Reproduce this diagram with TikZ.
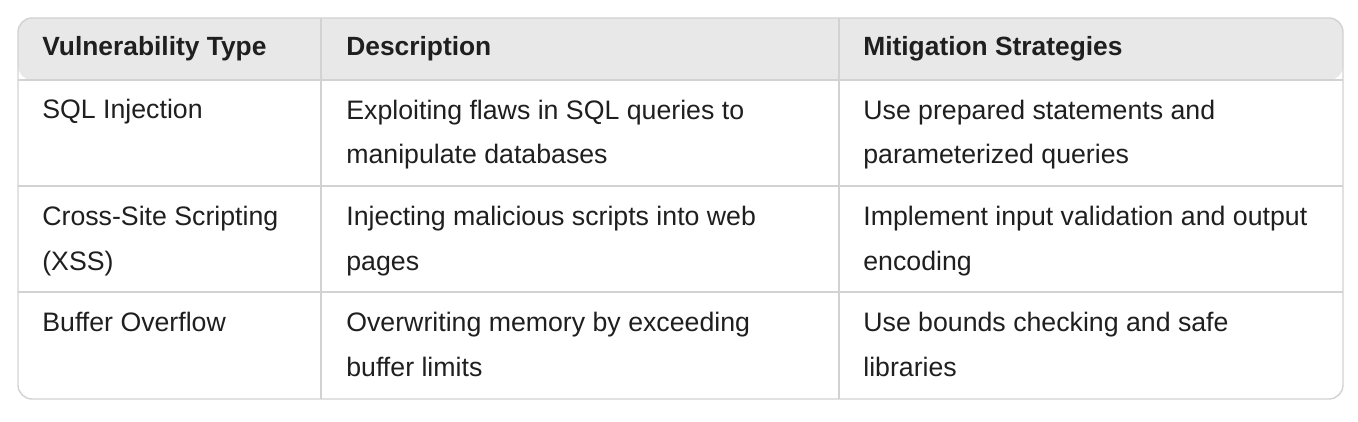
\documentclass[tikz,border=0pt]{standalone}
\usepackage{fontspec}
\setmainfont{Liberation Sans}
\usetikzlibrary{positioning, backgrounds}
\definecolor{gridGray}{HTML}{D2D2D2}
\definecolor{headBg}{HTML}{E8E8E8}
\definecolor{textDark}{HTML}{1F1F1F}
\tikzset{
    cell/.style={anchor=base west, inner sep=0pt, align=left, font=\fontsize{15.2}{25.5}\selectfont, text=textDark},
    head/.style={cell, font=\fontsize{15}{25.5}\selectfont\bfseries}
}
\begin{document}
\begin{tikzpicture}[x=0.02cm, y=-0.02cm]
        \useasboundingbox (0,0) rectangle (1358,422);
        % Header band and frame
        \fill[headBg, rounded corners=8pt] (18,18) rectangle (1343,80);
        \fill[white] (18.5,80) rectangle (1342.5,398.5);
        \draw[gridGray, line width=0.8pt, rounded corners=8pt] (18,18) rectangle (1343,399);
        
        % Grid lines
        \draw[gridGray, line width=0.8pt] (18,80) -- (1343,80) (18,186) -- (1343,186) (18,292) -- (1343,292);
        \draw[gridGray, line width=0.8pt] (321,18) -- (321,399) (839,18) -- (839,399);
        
        % Header
        \node[head] (hType) at (42,56) {Vulnerability Type};
        \node[head] (hDesc) at (346,56) {Description};
        \node[head] (hMit) at (863,56) {Mitigation Strategies};
        
        % Rows (two-line cells sit on their last baseline)
        \node[cell] (sqlType) at (42,119) {SQL Injection};
        \node[cell] (sqlDesc) at (346,164) {Exploiting flaws in SQL queries to\\manipulate databases};
        \node[cell] (sqlMit) at (863,164) {Use prepared statements and\\parameterized queries};
        
        \node[cell] (xssType) at (42,270) {Cross-Site Scripting\\(XSS)};
        \node[cell] (xssDesc) at (346,270) {Injecting malicious scripts into web\\pages};
        \node[cell] (xssMit) at (863,270) {Implement input validation and output\\encoding};
        
        \node[cell] (bofType) at (42,331) {Buffer Overflow};
        \node[cell] (bofDesc) at (346,376) {Overwriting memory by exceeding\\buffer limits};
        \node[cell] (bofMit) at (863,376) {Use bounds checking and safe\\libraries};
    \end{tikzpicture}
\end{document}
